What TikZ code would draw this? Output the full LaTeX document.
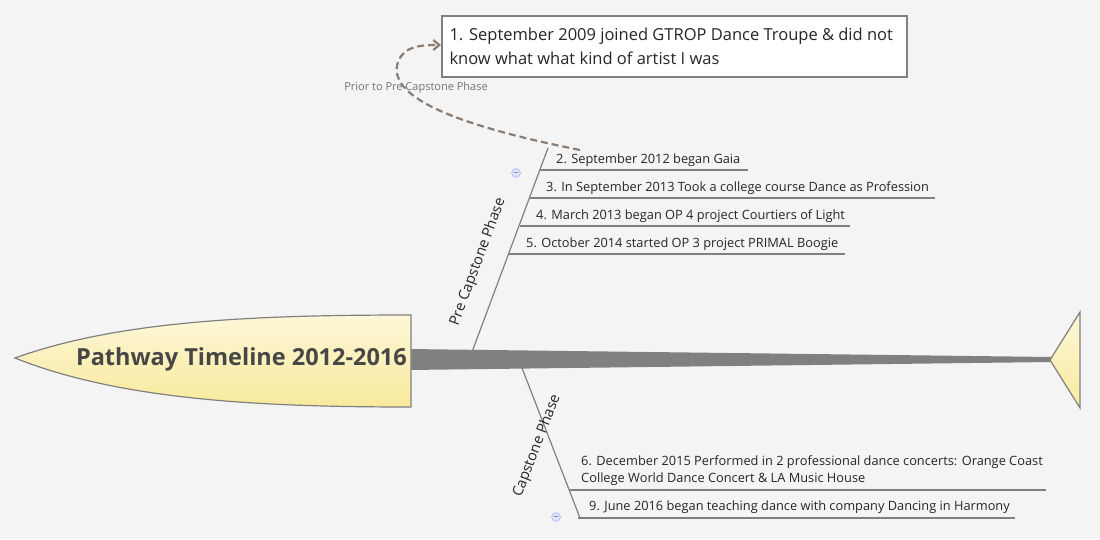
\documentclass[tikz,border=0pt]{standalone}
\usepackage{fontspec}
\setmainfont{Open Sans}
\usetikzlibrary{arrows.meta}
\definecolor{bg}{HTML}{F4F4F4}
\definecolor{ln}{HTML}{808080}
\definecolor{dashc}{HTML}{8C7D72}
\definecolor{yl}{HTML}{FDF7D8}
\definecolor{yd}{HTML}{F8EA9C}
\tikzset{item/.style={anchor=south west,inner sep=1pt,font=\fontsize{12.8}{17}\selectfont,text=black!85},
 uline/.style={draw=ln,line width=1.2pt},
 branch/.style={draw=ln,line width=1.2pt},
 blab/.style={font=\fontsize{14.5}{16}\selectfont,text=black!85},
 minus/.style={circle,draw=blue!35,fill=blue!12,inner sep=0pt,minimum size=9pt}}
\begin{document}
\begin{tikzpicture}[x=1pt,y=-1pt]
\useasboundingbox[fill=bg] (0,0) rectangle (1100,539);
% spine
\fill[ln] (408,349) -- (1052,357) -- (1052,362) -- (408,370) -- cycle;
% tail
\draw[ln,line width=1.2pt,top color=yl,bottom color=yd] (1050,360) -- (1080,312) -- (1080,408) -- cycle;
% head
\draw[ln,line width=1.2pt,top color=yl,bottom color=yd] (15,358) .. controls (120,320) and (260,315) .. (411,315) -- (411,407) .. controls (260,407) and (120,400) .. (15,358) -- cycle;
\node[anchor=east,font=\bfseries\fontsize{23.5}{26}\selectfont,text=black!72,inner sep=0pt] (title) at (407,359) {Pathway Timeline 2012-2016};
% upper branch
\coordinate (ub0) at (472,352); \coordinate (ub1) at (548,148);
\draw[branch] (ub0) -- (ub1);
\node[blab,rotate=69.6] (ul) at (478,262) {Pre Capstone Phase};
\node[minus] (um) at (516,173) {\scriptsize$-$};
\coordinate (a2) at (540,170); \coordinate (b2) at (748,170);
\coordinate (a3) at (530,198); \coordinate (b3) at (935,198);
\coordinate (a4) at (520,226); \coordinate (b4) at (850,226);
\coordinate (a5) at (509,254); \coordinate (b5) at (845,254);
\draw[uline] (a2)--(b2); \draw[uline] (a3)--(b3); \draw[uline] (a4)--(b4); \draw[uline] (a5)--(b5);
\node[item] (t2) at (555,168) {2. September 2012 began Gaia};
\node[item] (t3) at (545,196) {3. In September 2013 Took a college course Dance as Profession};
\node[item] (t4) at (535,224) {4. March 2013 began OP 4 project Courtiers of Light};
\node[item] (t5) at (525,252) {5. October 2014 started OP 3 project PRIMAL Boogie};
% lower branch
\coordinate (lb0) at (522,368); \coordinate (lb1) at (580,518);
\draw[branch] (lb0) -- (lb1);
\node[blab,rotate=68.9] (ll) at (537,446) {Capstone Phase};
\node[minus] (lm) at (556,517) {\scriptsize$-$};
\coordinate (a6) at (570,490); \coordinate (b6) at (1046,490);
\coordinate (a9) at (578,518); \coordinate (b9) at (1015,518);
\draw[uline] (a6)--(b6); \draw[uline] (a9)--(b9);
\node[item,align=left] (t6) at (580,487) {6. December 2015 Performed in 2 professional dance concerts: Orange Coast\\College World Dance Concert \& LA Music House};
\node[item] (t9) at (588,515) {9. June 2016 began teaching dance with company Dancing in Harmony};
% box 1
\node[draw=ln,line width=1.5pt,fill=white,anchor=north west,minimum width=465pt,minimum height=61pt,inner sep=0pt] (box) at (441,15) {};
\node[anchor=west,align=left,font=\fontsize{16.5}{24}\selectfont,text=black!85] (t1) at (446,46) {1. September 2009 joined GTROP Dance Troupe \& did not\\know what what kind of artist I was};
% dashed relation
\coordinate (rs) at (580,150);
\coordinate (re) at (441,45);
\draw[dashc,line width=2.2pt,dash pattern=on 7pt off 4pt,-{Straight Barb[length=6pt,width=10pt]}] (rs) .. controls (470,128) and (385,100) .. (398,62) .. controls (404,46) and (420,45) .. (re);
\node[font=\fontsize{11}{13}\selectfont,text=black!55,inner sep=1pt] (rl) at (416,88) {Prior to Pre Capstone Phase};
\end{tikzpicture}
\end{document}
